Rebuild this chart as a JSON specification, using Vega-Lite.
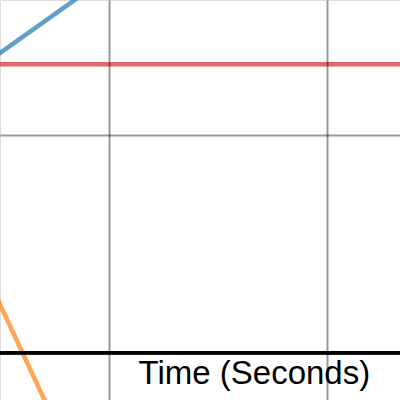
{
  "$schema": "https://vega.github.io/schema/vega-lite/v6.json",
  "width": 400,
  "height": 400,
  "autosize": "none",
  "padding": 0,
  "background": "white",
  "data": {
    "values": [
      {"series": "rising", "t": 0, "v": 1.02},
      {"series": "rising", "t": 1, "v": 1.73},
      {"series": "constant", "t": 0, "v": 1.324},
      {"series": "constant", "t": 3, "v": 1.324},
      {"series": "falling", "t": 0, "v": 1.30},
      {"series": "falling", "t": 1, "v": -0.85}
    ]
  },
  "layer": [
    {
      "mark": {"type": "line", "clip": true, "strokeWidth": 4.5, "opacity": 0.7},
      "encoding": {
        "x": {
          "field": "t",
          "type": "quantitative",
          "scale": {"domain": [0.5014, 2.3363], "nice": false, "zero": false},
          "axis": {
            "values": [1, 2],
            "grid": true,
            "gridColor": "black",
            "gridOpacity": 0.4,
            "gridWidth": 2,
            "domain": false,
            "ticks": false,
            "labels": false,
            "title": "Time (Seconds)",
            "titleFont": "Liberation Sans",
            "titleFontSize": 33,
            "titleFontWeight": "normal",
            "titleColor": "black",
            "titleAlign": "left",
            "titleBaseline": "alphabetic",
            "titleX": 138,
            "titleY": -17,
            "zindex": 1
          }
        },
        "y": {
          "field": "v",
          "type": "quantitative",
          "scale": {"domain": [-0.217, 1.6193], "nice": false, "zero": false},
          "axis": {
            "values": [0, 1],
            "grid": true,
            "gridColor": "black",
            "gridOpacity": 0.4,
            "gridWidth": 2,
            "domain": false,
            "ticks": false,
            "labels": false,
            "title": null,
            "zindex": 1
          }
        },
        "color": {
          "field": "series",
          "type": "nominal",
          "scale": {
            "domain": ["rising", "constant", "falling"],
            "range": ["#1f77b4", "#d62728", "#ff7f0e"]
          },
          "legend": null
        },
        "detail": {"field": "series"}
      }
    },
    {
      "mark": {"type": "rule", "color": "black", "strokeWidth": 3},
      "encoding": {"y": {"datum": 0}}
    }
  ]
}
